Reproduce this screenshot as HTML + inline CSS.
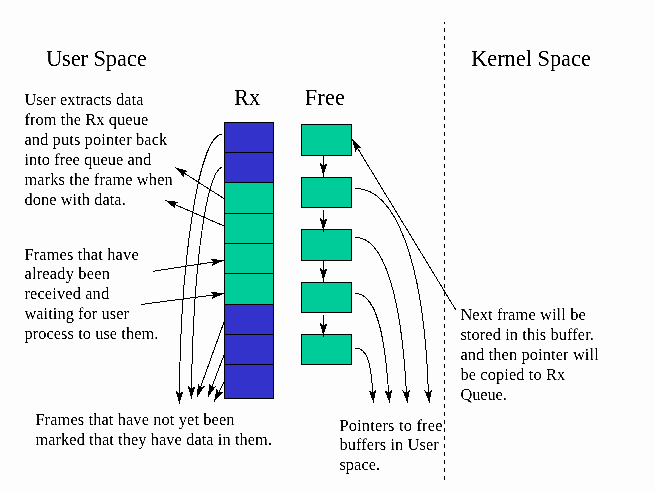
<!DOCTYPE html>
<html><head><meta charset="utf-8"><title>Rx / Free queues</title>
<style>
html,body{margin:0;padding:0;background:#fdfdfd;}
svg{display:block;will-change:transform;}
text{font-family:"Liberation Serif",serif;fill:#000;}
.ln{fill:none;stroke:#000;stroke-width:1;shape-rendering:crispEdges;}
</style></head>
<body>
<svg width="655" height="492" viewBox="0 0 655 492">
<defs>
<marker id="ah" markerUnits="userSpaceOnUse" markerWidth="14" markerHeight="10" refX="13" refY="3.75" orient="auto" overflow="visible">
<path d="M13,3.75 L0,0 L2.5,3.75 L0,7.5 Z" fill="#000" stroke="none" shape-rendering="crispEdges"/>
</marker>
<filter id="bw" x="0" y="0" width="100%" height="100%" filterUnits="userSpaceOnUse" color-interpolation-filters="sRGB">
<feComponentTransfer><feFuncA type="linear" slope="3" intercept="-1.0"/></feComponentTransfer>
</filter>
</defs>
<rect width="655" height="492" fill="#fdfdfd"/>
<rect x="224.5" y="122.5" width="49" height="30" fill="#3333cc" stroke="#000" stroke-width="1"/>
<rect x="224.5" y="152.5" width="49" height="30" fill="#3333cc" stroke="#000" stroke-width="1"/>
<rect x="224.5" y="182.5" width="49" height="31" fill="#00cc99" stroke="#000" stroke-width="1"/>
<rect x="224.5" y="213.5" width="49" height="30" fill="#00cc99" stroke="#000" stroke-width="1"/>
<rect x="224.5" y="243.5" width="49" height="30" fill="#00cc99" stroke="#000" stroke-width="1"/>
<rect x="224.5" y="273.5" width="49" height="31" fill="#00cc99" stroke="#000" stroke-width="1"/>
<rect x="224.5" y="304.5" width="49" height="30" fill="#3333cc" stroke="#000" stroke-width="1"/>
<rect x="224.5" y="334.5" width="49" height="30" fill="#3333cc" stroke="#000" stroke-width="1"/>
<rect x="224.5" y="364.5" width="49" height="34" fill="#3333cc" stroke="#000" stroke-width="1"/>
<rect x="301.5" y="124.5" width="50" height="31" fill="#00cc99" stroke="#000" stroke-width="1"/>
<rect x="301.5" y="177.5" width="50" height="30" fill="#00cc99" stroke="#000" stroke-width="1"/>
<rect x="301.5" y="229.5" width="50" height="31" fill="#00cc99" stroke="#000" stroke-width="1"/>
<rect x="301.5" y="282.5" width="50" height="30" fill="#00cc99" stroke="#000" stroke-width="1"/>
<rect x="301.5" y="334.5" width="50" height="30" fill="#00cc99" stroke="#000" stroke-width="1"/>
<path d="M323.5,156 L323.5,176" class="ln" marker-end="url(#ah)"/><path d="M323.5,175 L323.5,177" class="ln"/>
<path d="M323.5,210 L323.5,231" class="ln" marker-end="url(#ah)"/><path d="M323.5,230 L323.5,232" class="ln"/>
<path d="M323.5,261 L323.5,281" class="ln" marker-end="url(#ah)"/><path d="M323.5,280 L323.5,282" class="ln"/>
<path d="M323.5,315 L323.5,336" class="ln" marker-end="url(#ah)"/><path d="M323.5,335 L323.5,337" class="ln"/>
<path d="M444.5,22 V24 M444.5,28 V32 M444.5,36 V40 M444.5,44 V48 M444.5,52 V56 M444.5,60 V64 M444.5,68 V72 M444.5,76 V80 M444.5,84 V88 M444.5,92 V96 M444.5,100 V104 M444.5,108 V112 M444.5,116 V120 M444.5,124 V128 M444.5,132 V136 M444.5,140 V144 M444.5,148 V152 M444.5,156 V160 M444.5,164 V168 M444.5,172 V176 M444.5,180 V184 M444.5,188 V192 M444.5,196 V200 M444.5,204 V208 M444.5,212 V216 M444.5,220 V224 M444.5,228 V232 M444.5,236 V240 M444.5,244 V248 M444.5,252 V256 M444.5,260 V264 M444.5,268 V272 M444.5,276 V280 M444.5,284 V288 M444.5,292 V296 M444.5,300 V304 M444.5,308 V312 M444.5,316 V320 M444.5,324 V328 M444.5,332 V336 M444.5,340 V344 M444.5,348 V352 M444.5,356 V360 M444.5,364 V368 M444.5,372 V376 M444.5,380 V384 M444.5,388 V392 M444.5,396 V400 M444.5,404 V408 M444.5,412 V416 M444.5,420 V424 M444.5,428 V432 M444.5,436 V440 M444.5,444 V448 M444.5,452 V456 M444.5,460 V464 M444.5,468 V472 M444.5,476 V480" class="ln"/>
<path d="M222,134.3 C197.7,135.7 180.2,269.5 179.5,392 L179.5,404" class="ln" marker-end="url(#ah)"/>
<path d="M222,167 C205.8,173.4 193.5,267.3 191.5,387 L191.5,399" class="ln" marker-end="url(#ah)"/>
<path d="M224,322 L197,397" class="ln" marker-end="url(#ah)"/>
<path d="M224,355 L208,397" class="ln" marker-end="url(#ah)"/>
<path d="M224,382 L214,401.8" class="ln" marker-end="url(#ah)"/>
<path d="M224,198.6 L175,167.2" class="ln" marker-end="url(#ah)"/>
<path d="M224,226 L165,200.2" class="ln" marker-end="url(#ah)"/>
<path d="M153,271.3 L224,260.4" class="ln" marker-end="url(#ah)"/>
<path d="M140.8,304.5 L224,293.6" class="ln" marker-end="url(#ah)"/>
<path d="M355,188.4 C395,188 424,260 428.3,391 L429.5,403" class="ln" marker-end="url(#ah)"/>
<path d="M355,237.4 C385,237 401.5,300 406.3,391 L407.5,403" class="ln" marker-end="url(#ah)"/>
<path d="M355,293.4 C375,293 384.5,330 388.5,391 L389.5,403" class="ln" marker-end="url(#ah)"/>
<path d="M355,348 C367,348 371,362 372.6,391 L373.5,403" class="ln" marker-end="url(#ah)"/>
<path d="M455.6,309.6 L352,139" class="ln" marker-end="url(#ah)"/>
<g filter="url(#bw)">
<text x="46.00" y="66" font-size="22.5" textLength="100.65" lengthAdjust="spacing">User Space</text>
<text x="471.00" y="66" font-size="22.5" textLength="119.98" lengthAdjust="spacing">Kernel Space</text>
<text x="234.00" y="105" font-size="22.5" textLength="26.27" lengthAdjust="spacing">Rx</text>
<text x="304.80" y="105" font-size="22.5" textLength="40.11" lengthAdjust="spacing">Free</text>
<text x="24.40" y="105" font-size="16.4" textLength="119.15" lengthAdjust="spacing">User extracts data</text>
<text x="24.40" y="125" font-size="16.4" textLength="123.83" lengthAdjust="spacing">from the Rx queue</text>
<text x="24.40" y="145" font-size="16.4" textLength="142.92" lengthAdjust="spacing">and puts pointer back</text>
<text x="24.40" y="165" font-size="16.4" textLength="126.90" lengthAdjust="spacing">into free queue and</text>
<text x="24.40" y="185" font-size="16.4" textLength="148.32" lengthAdjust="spacing">marks the frame when</text>
<text x="24.40" y="205" font-size="16.4" textLength="101.37" lengthAdjust="spacing">done with data.</text>
<text x="24.40" y="260" font-size="16.4" textLength="114.26" lengthAdjust="spacing">Frames that have</text>
<text x="24.40" y="279" font-size="16.4" textLength="85.51" lengthAdjust="spacing">already been</text>
<text x="24.40" y="299" font-size="16.4" textLength="84.75" lengthAdjust="spacing">received and</text>
<text x="24.40" y="319" font-size="16.4" textLength="104.56" lengthAdjust="spacing">waiting for user</text>
<text x="24.40" y="339" font-size="16.4" textLength="134.05" lengthAdjust="spacing">process to use them.</text>
<text x="35.40" y="425" font-size="16.4" textLength="199.12" lengthAdjust="spacing">Frames that have not yet been</text>
<text x="35.40" y="445" font-size="16.4" textLength="236.64" lengthAdjust="spacing">marked that they have data in them.</text>
<text x="339.40" y="431" font-size="16.4" textLength="103.09" lengthAdjust="spacing">Pointers to free</text>
<text x="339.40" y="450" font-size="16.4" textLength="99.40" lengthAdjust="spacing">buffers in User</text>
<text x="339.40" y="470" font-size="16.4" textLength="40.77" lengthAdjust="spacing">space.</text>
<text x="460.40" y="320" font-size="16.4" textLength="125.39" lengthAdjust="spacing">Next frame will be</text>
<text x="460.40" y="340" font-size="16.4" textLength="133.52" lengthAdjust="spacing">stored in this buffer.</text>
<text x="460.40" y="360" font-size="16.4" textLength="138.35" lengthAdjust="spacing">and then pointer will</text>
<text x="460.40" y="380" font-size="16.4" textLength="104.90" lengthAdjust="spacing">be copied to Rx</text>
<text x="460.40" y="400" font-size="16.4" textLength="46.51" lengthAdjust="spacing">Queue.</text>
</g>
</svg>
</body></html>
